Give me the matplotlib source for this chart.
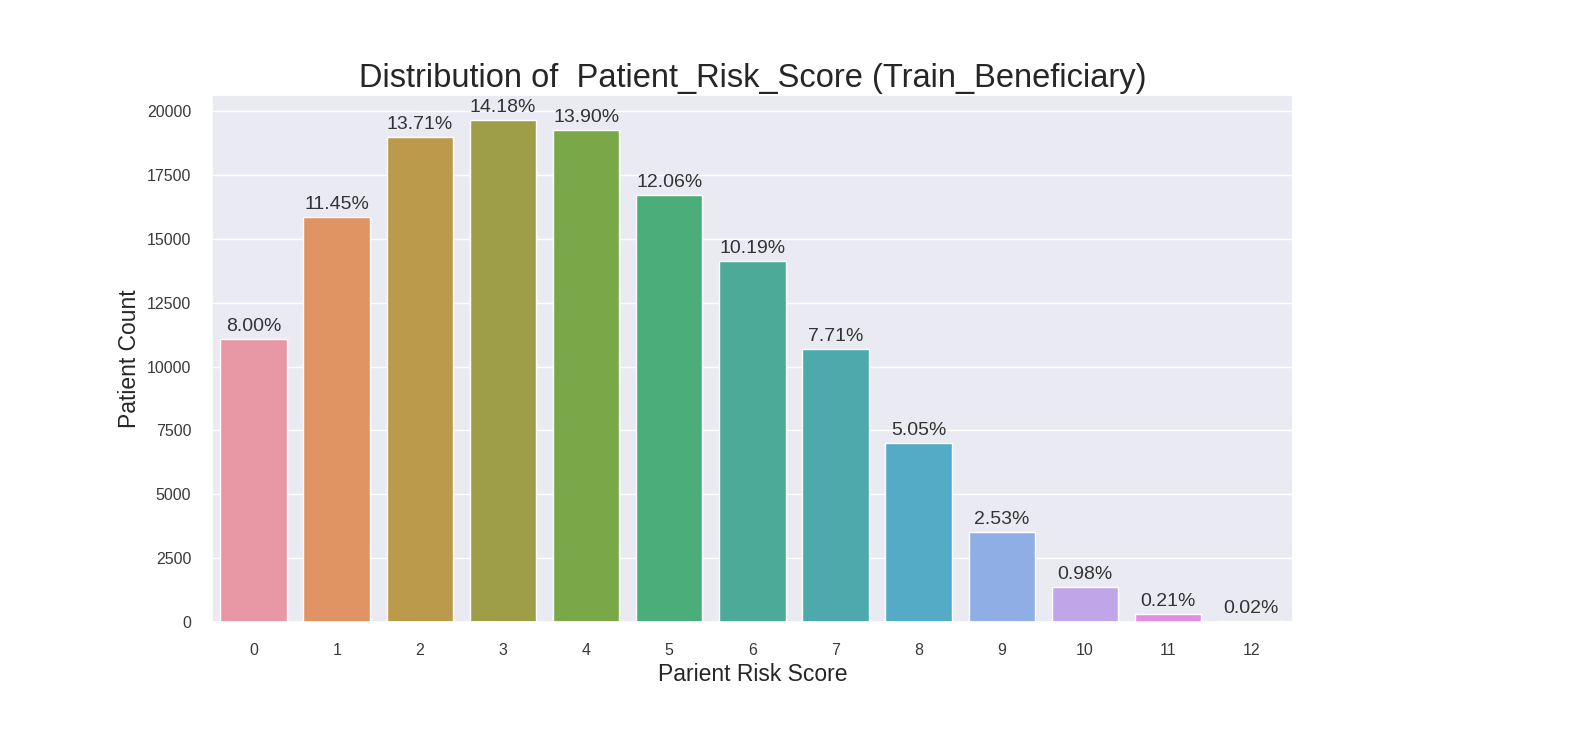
import numpy as np
import matplotlib
matplotlib.use("Agg")
import matplotlib.pyplot as plt
import seaborn as sns

# risk score categories and patient counts
risk_scores = ["0", "1", "2", "3", "4", "5", "6", "7", "8", "9", "10", "11", "12"]
patient_counts = [11085, 15864, 18996, 19647, 19259, 16710, 14119,
                  10683, 6997, 3505, 1358, 291, 28]

sns.set_theme(style="darkgrid")
plt.rcParams["font.family"] = ["Liberation Sans", "DejaVu Sans"]

# old countplot colours: light husl palette, then saturation .75
colors = [sns.desaturate(c, 0.72) for c in sns.husl_palette(len(risk_scores), l=.7)]

fig = plt.figure(figsize=(15.94, 7.5), dpi=100)
ax = fig.add_axes([0.133, 0.171, 0.678, 0.702])

x = np.arange(len(risk_scores))
bars = ax.bar(x, patient_counts, width=0.8, color=colors)
ax.set_xlim(-0.5, len(risk_scores) - 0.5)
ax.set_xticks(x)
ax.set_xticklabels(risk_scores)
ax.grid(False, axis="x")
ax.tick_params(axis="both", labelsize=11.5, colors="#3a3a3a", pad=9)

total = sum(patient_counts)
for b, c in zip(bars, patient_counts):
    ax.annotate("{:.2f}%".format(100 * c / total),
                (b.get_x() + b.get_width() / 2, b.get_height()),
                xytext=(0, 3), textcoords="offset points",
                ha="center", va="bottom", fontsize=14, color="#333333")

ax.set_title("Distribution of  Patient_Risk_Score (Train_Beneficiary)",
             fontsize=23.5, color="#262626", pad=6)
ax.set_xlabel("Parient Risk Score", fontsize=16.5, color="#262626")
ax.set_ylabel("Patient Count", fontsize=16.5, color="#262626")

fig.savefig("out.png", dpi=100)
